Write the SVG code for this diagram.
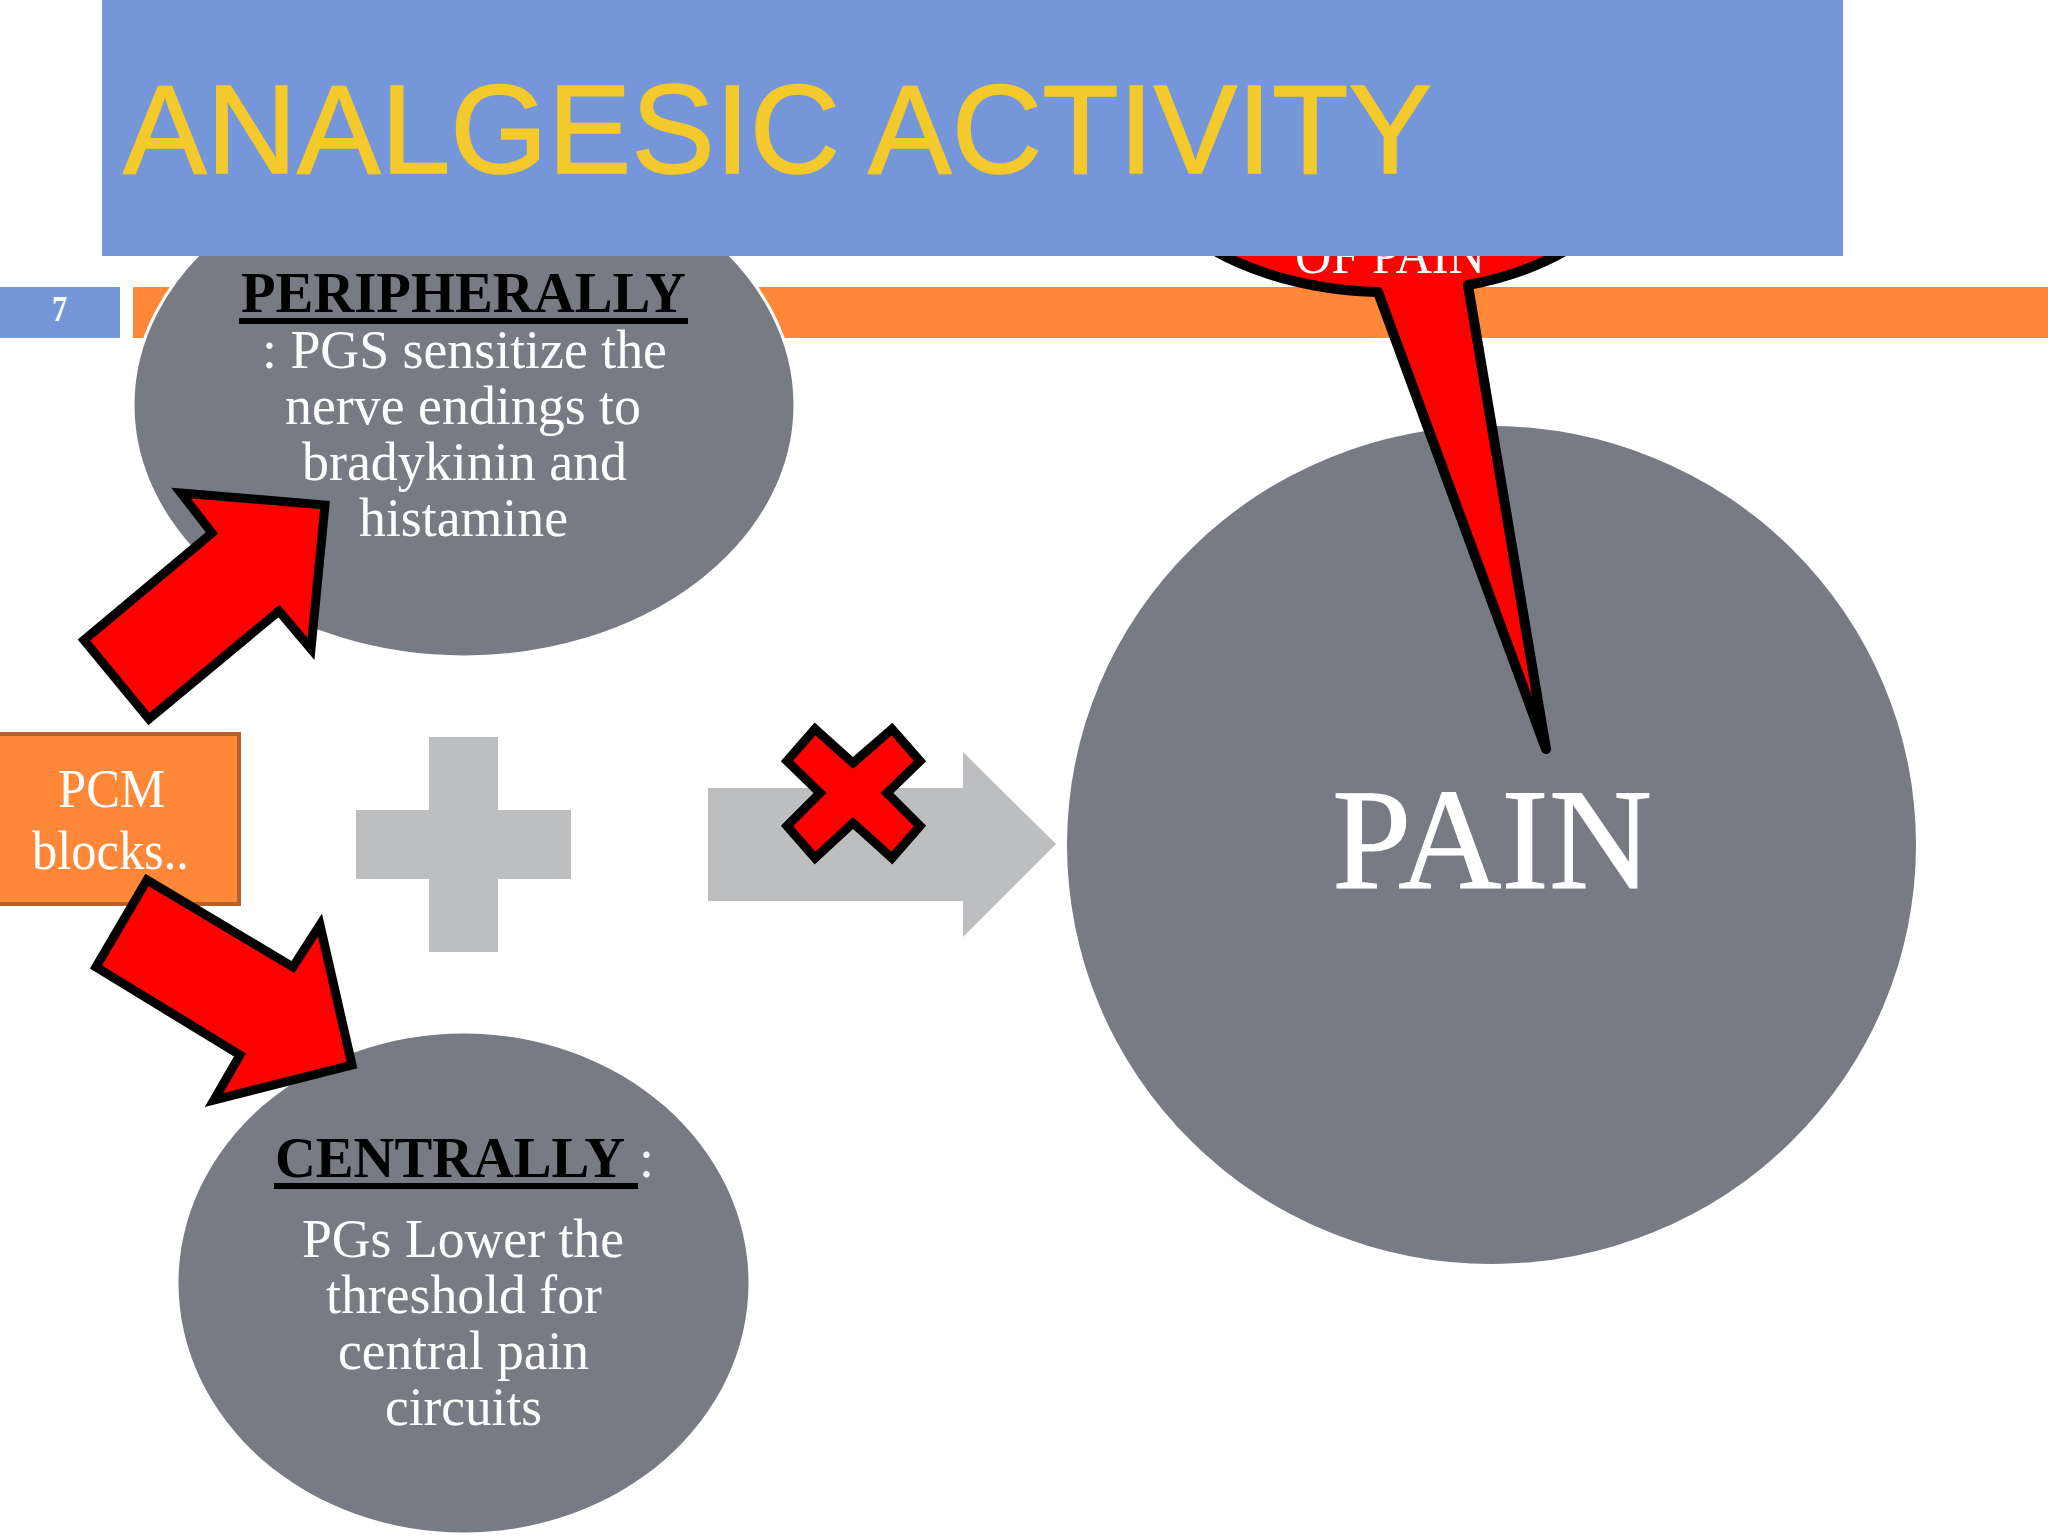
<svg xmlns="http://www.w3.org/2000/svg" width="2048" height="1536" viewBox="0 0 2048 1536">
<style>
.ser{font-family:"Liberation Serif","Times New Roman",serif;fill:#fff;text-anchor:start}
.b{font-weight:bold;fill:#000}
.red{fill:#f00;stroke:#000;stroke-width:9;stroke-linejoin:miter;stroke-miterlimit:10}
.grey{fill:#787b82}
.light{fill:#bdbec0}
</style>
<rect width="2048" height="1536" fill="#fff"/>
<g id="page-bar">
<rect x="0" y="287" width="120" height="51" fill="#7597d9"/>
<text class="ser" x="52" y="321" font-size="36" font-weight="bold" textLength="15" lengthAdjust="spacingAndGlyphs">7</text>
<rect x="133" y="287" width="1915" height="51" fill="#ff8838"/>
</g>
<g id="node-pain">
<ellipse class="grey" cx="1491.500" cy="845" rx="424.500" ry="419"/>
<text class="ser" x="1332" y="888" font-size="144" stroke="#fff" stroke-width="1" textLength="320" lengthAdjust="spacingAndGlyphs">PAIN</text>
</g>
<g id="node-peripherally">
<ellipse class="grey" cx="464" cy="405" rx="331" ry="252" stroke="#fff" stroke-width="3"/>
<text class="ser b" x="241" y="312" font-size="58" textLength="445" lengthAdjust="spacingAndGlyphs">PERIPHERALLY</text>
<rect x="239" y="318" width="449" height="6" fill="#000"/>
<text class="ser" x="262" y="368" font-size="55" textLength="405" lengthAdjust="spacingAndGlyphs">: PGS sensitize the</text>
<text class="ser" x="285" y="424" font-size="55" textLength="356" lengthAdjust="spacingAndGlyphs">nerve endings to</text>
<text class="ser" x="302" y="480" font-size="55" textLength="325" lengthAdjust="spacingAndGlyphs">bradykinin and</text>
<text class="ser" x="359" y="536" font-size="55" textLength="209" lengthAdjust="spacingAndGlyphs">histamine</text>
</g>
<g id="node-centrally">
<ellipse class="grey" cx="463.500" cy="1283" rx="285" ry="249.500"/>
<text class="ser b" x="275" y="1177" font-size="58" textLength="350" lengthAdjust="spacingAndGlyphs">CENTRALLY</text>
<text class="ser" x="639" y="1177" font-size="54">:</text>
<rect x="274" y="1183" width="364" height="6" fill="#000"/>
<text class="ser" x="302" y="1257" font-size="55" textLength="322" lengthAdjust="spacingAndGlyphs">PGs Lower the</text>
<text class="ser" x="326" y="1313" font-size="55" textLength="276" lengthAdjust="spacingAndGlyphs">threshold for</text>
<text class="ser" x="338" y="1369" font-size="55" textLength="251" lengthAdjust="spacingAndGlyphs">central pain</text>
<text class="ser" x="385" y="1425" font-size="55" textLength="157" lengthAdjust="spacingAndGlyphs">circuits</text>
</g>
<g id="node-pcm">
<rect x="-4" y="734" width="243" height="170" fill="#ff8838" stroke="#b9602a" stroke-width="4"/>
<text class="ser" x="58" y="807" font-size="55" textLength="107" lengthAdjust="spacingAndGlyphs">PCM</text>
<text class="ser" x="32" y="869" font-size="55" textLength="157" lengthAdjust="spacingAndGlyphs">blocks..</text>
</g>
<g id="node-plus">
<path class="light" d="M429,737H498V810H571V879H498V952H429V879H356V810H429Z"/>
</g>
<g id="connectors">
<path id="arrow-grey" class="light" d="M708,788H963V752L1056,844L963,937V901H708Z"/>
<path id="arrow-up" class="red" d="M181,493L325,505L311,649L279,611L149,719L84,640L212,533Z"/>
<path id="arrow-down" class="red" d="M352,1065L320,925L293,967L147,880L96,967L240,1055L214,1100Z"/>
</g>
<g id="node-cross">
<path class="red" d="M853,763L815,729L787,761L820,793L787,826L815,858L853,823L892,858L920,826L887,793L920,761L892,729Z"/>
</g>
<g id="node-callout">
<path d="M1378,292L1546,749L1468,285A249,143 0 1 0 1378,292Z" fill="#f00" stroke="#000" stroke-width="10" stroke-linejoin="round"/>
<text class="ser" x="1295" y="273" font-size="54" textLength="190" lengthAdjust="spacingAndGlyphs">OF PAIN</text>
</g>
<g id="node-title">
<rect x="102" y="0" width="1741" height="256" fill="#7597d9"/>
<text x="123" y="173" font-family="Liberation Sans, Arial, sans-serif" font-size="127" fill="#f4c92b" stroke="#f4c92b" stroke-width="1.500" textLength="1309" lengthAdjust="spacingAndGlyphs">ANALGESIC ACTIVITY</text>
</g>
</svg>
